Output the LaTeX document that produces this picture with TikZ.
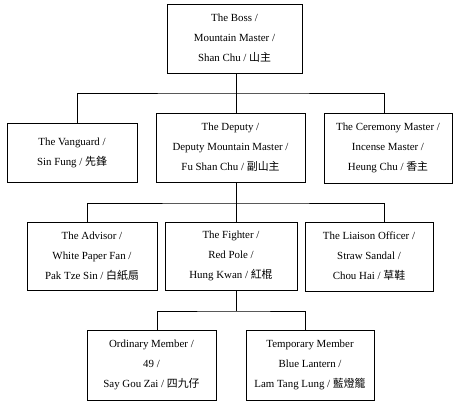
\documentclass[tikz,border=0pt]{standalone}
\usepackage{fontspec}
\setmainfont{Liberation Serif}
\newfontfamily\cjk{Noto Sans CJK TC}
\begin{document}
\begin{tikzpicture}[x=1pt,y=-1pt,
  rolebox/.style={draw, line width=0.8pt, align=center, inner sep=0pt,
    font=\fontsize{10.9}{20}\selectfont},
  link/.style={line width=0.8pt}]
\useasboundingbox (0,0) rectangle (457,408);
% level 1
\node[rolebox, minimum width=135pt, minimum height=69pt] (boss) at (234.5,38.5)
  {The Boss /\\Mountain Master /\\Shan Chu / {\cjk 山主}};
% level 2
\node[rolebox, minimum width=130pt, minimum height=59pt] (vang) at (72,152.5)
  {The Vanguard /\\Sin Fung / {\cjk 先鋒}};
\node[rolebox, minimum width=149pt, minimum height=69pt] (deputy) at (230.5,147.5)
  {The Deputy /\\Deputy Mountain Master /\\Fu Shan Chu / {\cjk 副山主}};
\node[rolebox, minimum width=128pt, minimum height=70pt] (cere) at (388,148)
  {The Ceremony Master /\\Incense Master /\\Heung Chu / {\cjk 香主}};
% level 3
\node[rolebox, minimum width=130pt, minimum height=68pt] (adv) at (92,256)
  {The Advisor /\\White Paper Fan /\\Pak Tze Sin / {\cjk 白紙扇}};
\node[rolebox, minimum width=132pt, minimum height=68pt] (fight) at (231,256)
  {The Fighter /\\Red Pole /\\Hung Kwan / {\cjk 紅棍}};
\node[rolebox, minimum width=128pt, minimum height=69pt] (liai) at (369,256.5)
  {The Liaison Officer /\\Straw Sandal /\\Chou Hai / {\cjk 草鞋}};
% level 4
\node[rolebox, minimum width=129pt, minimum height=70pt] (ord) at (151.5,365)
  {Ordinary Member /\\49 /\\Say Gou Zai / {\cjk 四九仔}};
\node[rolebox, minimum width=128pt, minimum height=70pt] (temp) at (310,365)
  {Temporary Member\\Blue Lantern /\\Lam Tang Lung / {\cjk 藍燈籠}};
% bus junctions
\coordinate (j1) at (236,93);
\coordinate (j2) at (236,203);
\coordinate (j3) at (236,311);
\coordinate (xv) at (77,0);
\coordinate (xc) at (384,0);
\coordinate (xa) at (87,0);
\coordinate (xl) at (384,0);
\coordinate (xo) at (157,0);
\coordinate (xt) at (305,0);
% connectors
\draw[link] (boss.south -| j1) -- (j1);
\draw[link] (vang.north -| xv) |- (j1) -| (cere.north -| xc);
\draw[link] (j1) -- (deputy.north -| j1);
\draw[link] (deputy.south -| j2) -- (j2);
\draw[link] (adv.north -| xa) |- (j2) -| (liai.north -| xl);
\draw[link] (j2) -- (fight.north -| j2);
\draw[link] (fight.south -| j3) -- (j3);
\draw[link] (ord.north -| xo) |- (j3) -| (temp.north -| xt);
\end{tikzpicture}
\end{document}
